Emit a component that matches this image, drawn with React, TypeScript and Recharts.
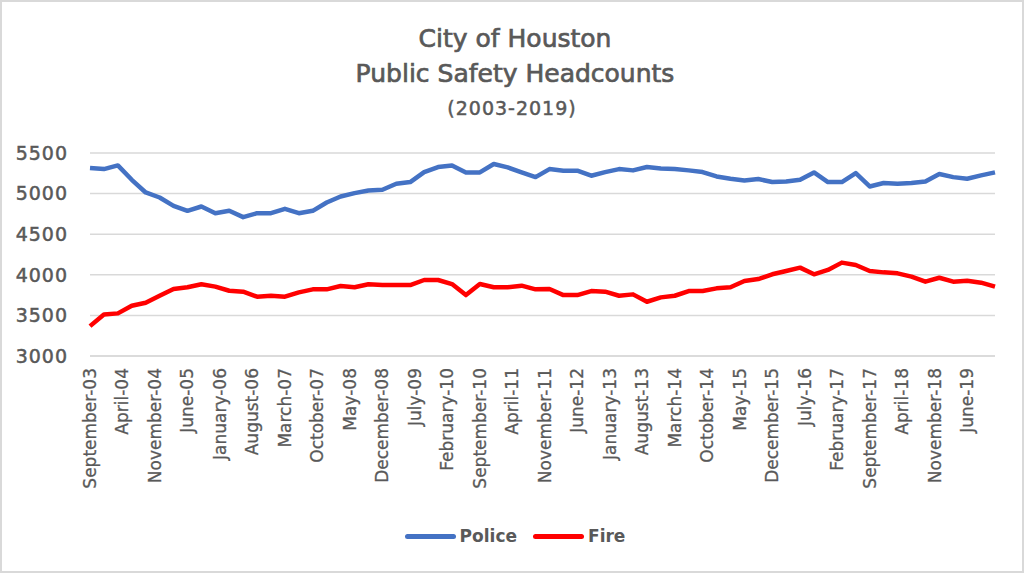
import { LineChart, Line, XAxis, YAxis, CartesianGrid, Legend } from 'recharts';

// quarterly headcounts, Sep-03 through Dec-19
const police = [
  5315, 5302, 5347, 5170, 5014, 4952, 4849, 4788, 4841, 4759, 4788, 4710, 4759, 4759, 4812, 4759, 4788, 4890, 4964, 5006, 5038, 5047,
  5121, 5142, 5265, 5327, 5347, 5261, 5261, 5364, 5323, 5261, 5203, 5302, 5282, 5282, 5220, 5265, 5302, 5286, 5327, 5310, 5302, 5286,
  5265, 5211, 5183, 5162, 5179, 5142, 5150, 5170, 5261, 5142, 5142, 5253, 5088, 5130, 5121, 5130, 5150, 5241, 5203, 5183, 5224, 5261,
];

const fire = [
  3368, 3512, 3525, 3619, 3656, 3742, 3825, 3846, 3883, 3854, 3804, 3792, 3730, 3742, 3730, 3784, 3821, 3821, 3862, 3846, 3883, 3874,
  3874, 3874, 3936, 3936, 3886, 3750, 3886, 3846, 3846, 3866, 3821, 3825, 3750, 3750, 3800, 3792, 3742, 3759, 3668, 3722, 3742, 3800,
  3800, 3833, 3846, 3923, 3948, 4006, 4047, 4088, 4006, 4060, 4150, 4121, 4047, 4030, 4018, 3977, 3915, 3964, 3915, 3927, 3903, 3854,
];

// axis labels every 7 months starting at Sep-03
const tickLabels = [
  'September-03', 'April-04', 'November-04', 'June-05', 'January-06', 'August-06', 'March-07',
  'October-07', 'May-08', 'December-08', 'July-09', 'February-10', 'September-10', 'April-11',
  'November-11', 'June-12', 'January-13', 'August-13', 'March-14', 'October-14', 'May-15',
  'December-15', 'July-16', 'February-17', 'September-17', 'April-18', 'November-18', 'June-19',
];

const yTicks = [3000, 3500, 4000, 4500, 5000, 5500];
const seriesOrder = ['Police', 'Fire'];

const FONT = '"DejaVu Sans", sans-serif';
const GRAY = '#595959';

// x is months since Sep-03
const data = police.map((p, i) => ({ m: i * 3, police: p, fire: fire[i] }));

function XTick({ x, y, payload }: any) {
  const label = tickLabels[Math.round(payload.value / 7)];
  return (
    <g transform={`translate(${x},${y})`}>
      <text transform="rotate(-90)" x={-4} y={0} dy="0.35em" textAnchor="end" fill={GRAY} stroke={GRAY} strokeWidth={0.3} fontSize={17} fontFamily={FONT}>
        {label}
      </text>
    </g>
  );
}

function LegendContent({ payload }: any) {
  const items = [...(payload || [])].sort((a: any, b: any) => seriesOrder.indexOf(a.value) - seriesOrder.indexOf(b.value));
  return (
    <div style={{ display: 'flex', justifyContent: 'center', alignItems: 'center', gap: 16, fontFamily: FONT }}>
      {items.map((item: any) => (
        <div key={item.value} style={{ display: 'flex', alignItems: 'center' }}>
          <div style={{ width: 51, height: 5, borderRadius: 3, background: item.color, marginRight: 4 }} />
          <span style={{ color: GRAY, fontSize: 17, fontWeight: 'bold' }}>{item.value}</span>
        </div>
      ))}
    </div>
  );
}

export default function App() {
  return (
    <div style={{ position: 'absolute', left: 0, top: 0, width: 1024, height: 573, background: '#fff' }}>
      <LineChart width={1024} height={573} data={data} margin={{ top: 153, right: 29, left: 0, bottom: 67 }}>
        <CartesianGrid vertical={false} stroke="#d9d9d9" strokeWidth={1.5} />
        <XAxis
          dataKey="m"
          type="number"
          domain={[0, 195]}
          ticks={tickLabels.map((_, i) => i * 7)}
          interval={0}
          tick={<XTick />}
          tickLine={false}
          axisLine={{ stroke: '#d9d9d9', strokeWidth: 1.5 }}
          height={150}
        />
        <YAxis
          domain={[3000, 5500]}
          ticks={yTicks}
          axisLine={false}
          tickLine={false}
          width={90}
          tickMargin={16}
          tick={{ fill: GRAY, stroke: GRAY, strokeWidth: 0.5, fontSize: 19, fontFamily: FONT, letterSpacing: 1 }}
        />
        <Legend
          verticalAlign="middle"
          align="center"
          wrapperStyle={{ top: 526, left: 0, width: 1030 }}
          content={<LegendContent />}
        />
        <Line type="linear" dataKey="police" name="Police" stroke="#4472C4" strokeWidth={4.5} dot={false} strokeLinejoin="round" isAnimationActive={false} />
        <Line type="linear" dataKey="fire" name="Fire" stroke="#FF0000" strokeWidth={4.5} dot={false} strokeLinejoin="round" isAnimationActive={false} />
      </LineChart>
      <svg width={1024} height={130} style={{ position: 'absolute', left: 0, top: 0, pointerEvents: 'none' }}>
        <g fill={GRAY} stroke={GRAY} fontFamily={FONT} textAnchor="middle">
          <text x={515} y={47} fontSize={25} strokeWidth={0.7}>City of Houston</text>
          <text x={515} y={82} fontSize={25} strokeWidth={0.7}>Public Safety Headcounts</text>
          <text x={512} y={115} fontSize={19} strokeWidth={0.5} letterSpacing={1}>(2003-2019)</text>
        </g>
      </svg>
      <div style={{ position: 'absolute', left: 0, top: 0, width: 1020, height: 569, border: '2px solid #d9d9d9', pointerEvents: 'none' }} />
    </div>
  );
}
